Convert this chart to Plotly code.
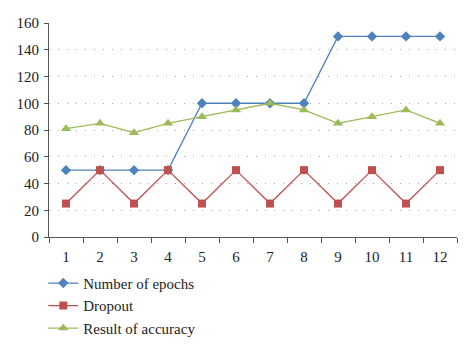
import plotly.graph_objects as go

categories = [str(i) for i in range(1, 13)]
epochs = [50, 50, 50, 50, 100, 100, 100, 100, 150, 150, 150, 150]
dropout = [25, 50, 25, 50, 25, 50, 25, 50, 25, 50, 25, 50]
accuracy = [81, 85, 78, 85, 90, 95, 100, 95, 85, 90, 95, 85]
y_ticks = [0, 20, 40, 60, 80, 100, 120, 140, 160]

FONT = "Liberation Serif"

fig = go.Figure()
fig.add_trace(go.Scatter(x=categories, y=epochs, name="Number of epochs", mode="lines+markers",
                         line=dict(color="#4F81BD", width=1.3),
                         marker=dict(symbol="diamond", size=8, color="#4F81BD")))
fig.add_trace(go.Scatter(x=categories, y=dropout, name="Dropout", mode="lines+markers",
                         line=dict(color="#C0504D", width=1.3),
                         marker=dict(symbol="square", size=8, color="#C0504D")))
fig.add_trace(go.Scatter(x=categories, y=accuracy, name="Result of accuracy", mode="lines+markers",
                         line=dict(color="#9BBB59", width=1.3),
                         marker=dict(symbol="triangle-up", size=9, color="#9BBB59")))

fig.update_layout(
    width=474, height=352,
    margin=dict(l=49, r=17, t=23, b=115, autoexpand=False),
    paper_bgcolor="white", plot_bgcolor="white",
    font=dict(family=FONT, size=15, color="#222"),
    showlegend=True,
    legend=dict(orientation="v", x=-0.014, xanchor="left", yref="container", y=0.242, yanchor="top",
                font=dict(family=FONT, size=15, color="#222"), tracegroupgap=0,
                bgcolor="rgba(0,0,0,0)"),
)
fig.update_xaxes(type="category", range=[-0.5, 11.5], tickson="boundaries", ticks="outside",
                 ticklen=5, tickcolor="#555", showline=True, linecolor="#555", linewidth=1,
                 showgrid=False, zeroline=False, tickfont=dict(family=FONT, size=15),
                 ticklabelstandoff=6, automargin=False)
fig.update_yaxes(range=[0, 160], tickvals=y_ticks, ticks="outside", ticklen=4, tickcolor="#555",
                 showline=True, linecolor="#555", linewidth=1, showgrid=True,
                 gridcolor="#AAAAAA", griddash="1px,8px", gridwidth=1, zeroline=False,
                 tickfont=dict(family=FONT, size=15), ticklabelstandoff=2, automargin=False)

fig.write_html("out.html")
